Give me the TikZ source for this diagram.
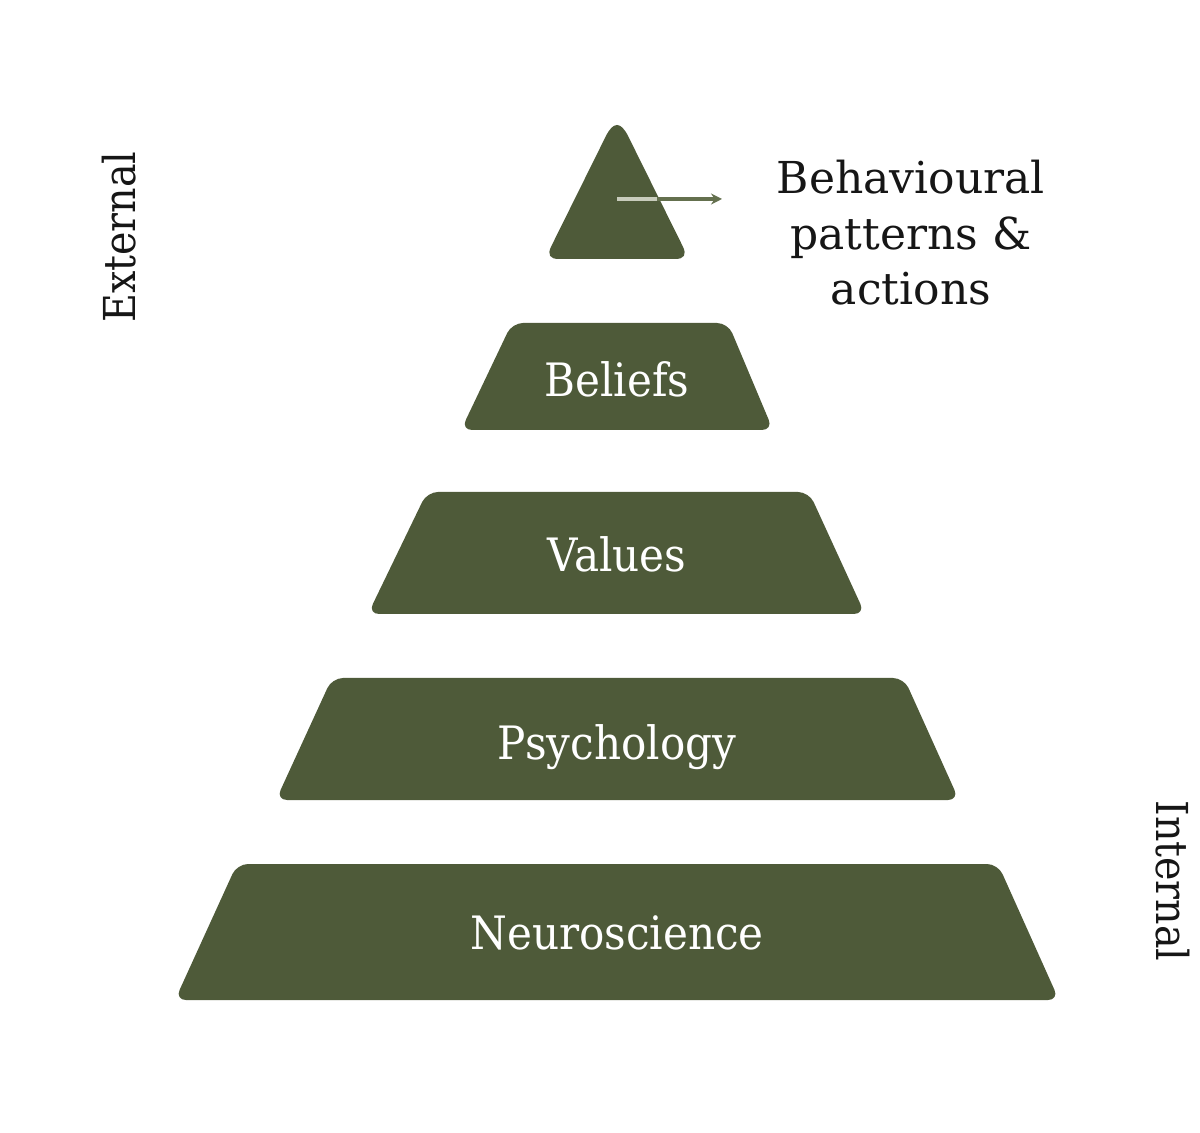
\documentclass[tikz,border=0pt]{standalone}
\usepackage{fontspec}
\setmainfont{DejaVu Serif}
\newfontfamily\tierfont[FakeStretch=0.915]{DejaVu Serif}
\newfontfamily\sidefont[FakeStretch=0.9]{DejaVu Serif}
\usetikzlibrary{arrows.meta}
\definecolor{pyr}{RGB}{78,90,57}
\definecolor{arrowgreen}{RGB}{100,112,78}
\definecolor{arrowlight}{RGB}{200,204,188}
\definecolor{inktext}{RGB}{22,22,22}
\begin{document}
\begin{tikzpicture}[x=0.5pt,y=-0.5pt,
  tier/.style={fill=pyr, rounded corners=5.5pt},
  tierlabel/.style={text=white, font=\tierfont\fontsize{23}{28}\selectfont, anchor=base, inner sep=0pt},
  sidelabel/.style={text=inktext, font=\sidefont\fontsize{22}{27}\selectfont, anchor=base, inner sep=0pt},
  behavlabel/.style={text=inktext, font=\fontsize{22}{27.75}\selectfont, anchor=north, align=center, inner sep=0pt},
  pointer/.style={line width=1.8pt, draw=arrowgreen, -{Stealth[length=5.5pt,width=5.5pt]}},
]
\useasboundingbox (0,0) rectangle (1200,1133);

% top triangle (explicitly rounded corners)
\fill[pyr] (559,259) -- (675,259) .. controls (684.3,259) and (686.9,254.8) .. (682.8,246.4)
  -- (628.4,136.7) .. controls (620.8,121.1) and (613.2,121.1) .. (605.6,136.7)
  -- (551.2,246.4) .. controls (547.1,254.8) and (549.7,259) .. (559,259) -- cycle;

% tiers
\fill[tier] (461,430) -- (512,323) -- (728,323) -- (773,430) -- cycle;
\fill[tier] (368,614) -- (427,492) -- (809,492) -- (865,614) -- cycle;
\fill[tier] (276,800) -- (332,678) -- (904,678) -- (959,800) -- cycle;
\fill[tier] (175,1000) -- (237,864) -- (998,864) -- (1059,1000) -- cycle;

% labels in tiers
\node[tierlabel] (beliefs) at (617,397) {Beliefs};
\node[tierlabel] (values) at (617,572) {Values};
\node[tierlabel] (psych) at (617,760) {Psychology};
\node[tierlabel] (neuro) at (617,949) {Neuroscience};

% pointer
\coordinate (pstart) at (617,199);
\coordinate (pedge) at (657,199);
\coordinate (pend) at (722,199);
\draw[pointer] (pstart) -- (pend);
\draw[line width=1.8pt, draw=arrowlight] (pstart) -- (pedge);

% behaviour label
\node[behavlabel] (behav) at (911,160) {Behavioural\\patterns \&\\actions};

% side labels
\node[sidelabel, rotate=90] (external) at (135,237) {External};
\node[sidelabel, rotate=-90] (internal) at (1156,881) {Internal};
\end{tikzpicture}
\end{document}
